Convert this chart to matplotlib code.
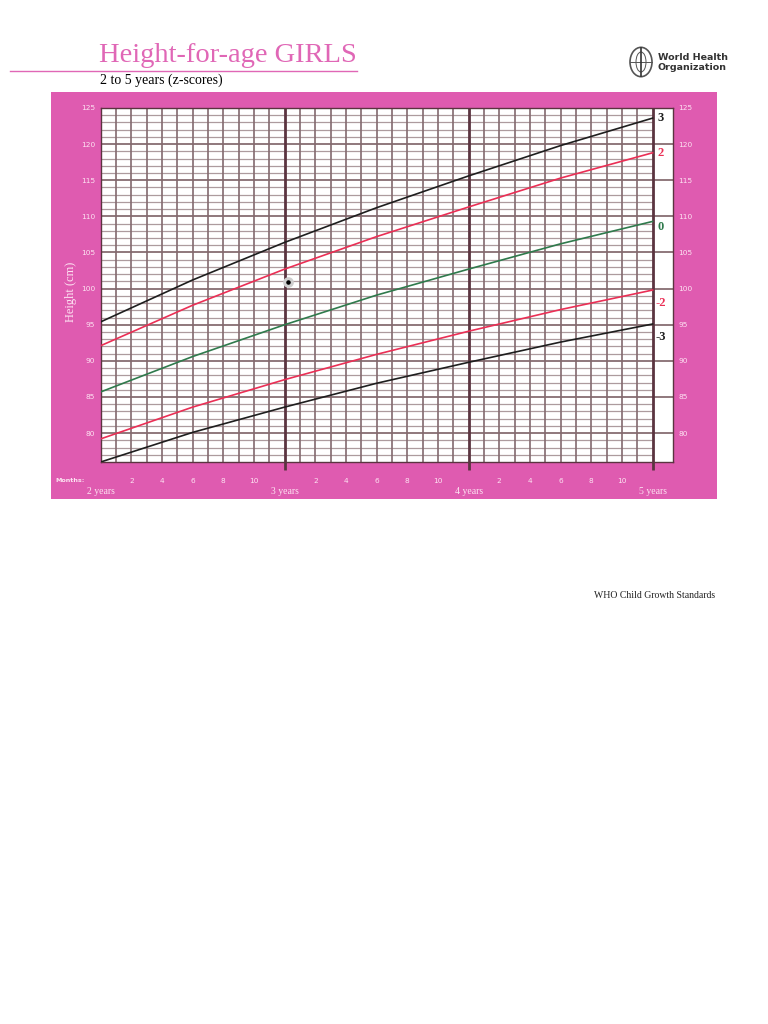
import numpy as np
import matplotlib.pyplot as plt
from matplotlib.patches import Rectangle, Circle, Ellipse
from matplotlib.lines import Line2D

# ---- data ----
age_months = [24, 30, 36, 42, 48, 54, 60]
sd3 = [95.4, 101.2, 106.4, 111.2, 115.6, 119.8, 123.6]
sd2 = [92.1, 97.7, 102.7, 107.2, 111.3, 115.3, 118.8]
sd0 = [85.7, 90.6, 95.0, 99.1, 102.7, 106.2, 109.3]
sd2neg = [79.2, 83.6, 87.4, 90.9, 94.1, 97.1, 99.8]
sd3neg = [76.0, 80.1, 83.6, 86.9, 89.8, 92.6, 95.1]
z_labels = ["3", "2", "0", "-2", "-3"]

child_age = [36.2]
child_height = [100.9]

height_ticks = [80, 85, 90, 95, 100, 105, 110, 115, 120, 125]
month_labels = [2, 4, 6, 8, 10]
year_labels = ["2 years", "3 years", "4 years", "5 years"]

# ---- styling ----
W, H = 768, 1024
PINK = "#df5bb0"
TITLE_PINK = "#e067b6"
BLACK = "#1e1e1e"
RED = "#ea2f55"
GREEN = "#2f7a4c"
LABEL = "#fde3f2"
colors = [BLACK, RED, GREEN, RED, BLACK]
label_drop = [0, 0, 5.5, 13, 13]  # px below curve end


def fx(x):
    return x / W


def fy(y):
    return 1 - y / H


fig = plt.figure(figsize=(W / 100, H / 100), dpi=100)
fig.patch.set_facecolor("white")

# header
fig.text(fx(99), fy(55), "Height-for-age GIRLS", family="Liberation Serif",
         fontsize=20.5, color=TITLE_PINK, va="center", ha="left")
fig.add_artist(Line2D([fx(10), fx(357)], [fy(71), fy(71)], color=TITLE_PINK, lw=1))
fig.text(fx(100), fy(80), "2 to 5 years (z-scores)", family="Liberation Serif",
         fontsize=10, color="black", va="center", ha="left")

# WHO logo (rough emblem + name)
fig.add_artist(Circle((fx(641), fy(62)), 11 / W, transform=fig.transFigure,
                      facecolor="white", edgecolor="#555555", lw=1.2))
fig.add_artist(Ellipse((fx(641), fy(62)), 10 / W, 20 / H, transform=fig.transFigure,
                       facecolor="none", edgecolor="#555555", lw=0.7))
fig.add_artist(Line2D([fx(630), fx(652)], [fy(62), fy(62)], color="#555555", lw=0.7))
fig.add_artist(Line2D([fx(641), fx(641)], [fy(48), fy(76)], color="#333333", lw=1.2))
fig.text(fx(658), fy(57), "World Health", family="DejaVu Sans", fontsize=6.8,
         fontweight="bold", color="#333333", va="center", ha="left")
fig.text(fx(658), fy(68), "Organization", family="DejaVu Sans", fontsize=6.8,
         fontweight="bold", color="#333333", va="center", ha="left")

# pink panel
fig.add_artist(Rectangle((fx(51), fy(499)), (717 - 51) / W, (499 - 92) / H,
                         transform=fig.transFigure, facecolor=PINK, edgecolor="none",
                         zorder=0))

# main axes
ax_left, ax_right, ax_top, ax_bottom = 100.7, 673, 108, 462
ax = fig.add_axes([fx(ax_left), fy(ax_bottom), (ax_right - ax_left) / W,
                   (ax_bottom - ax_top) / H])
x_max = 24 + (ax_right - ax_left) / 15.33
ax.set_xlim(24, x_max)
ax.set_ylim(76, 125)
ax.set_facecolor("white")

# grid
minor_h = [v for v in range(77, 125) if v % 5 != 0]
major_h = list(range(80, 125, 5))
ax.hlines(minor_h, 24, 60, color="#ad9b9e", lw=0.9, zorder=1)
ax.hlines(major_h, 24, x_max, color="#715359", lw=1.1, zorder=1)
ax.vlines([m for m in range(25, 60) if m % 12 != 0], 76, 125, color="#836a6e",
          lw=1.2, zorder=1)
ax.vlines([36, 48, 60], 76 - 8 / 7.224, 125, color="#5b3440", lw=2.0, zorder=2,
          clip_on=False)
for s in ax.spines.values():
    s.set_color("#5b3440")
    s.set_linewidth(1.0)

# z-score curves
curves = [sd3, sd2, sd0, sd2neg, sd3neg]
for vals, c, lab, drop in zip(curves, colors, z_labels, label_drop):
    ax.plot(age_months, vals, color=c, lw=1.2, zorder=3)
    ax.annotate(lab, (60.55, vals[-1]), xytext=(0, -drop * 0.72),
                textcoords="offset points", ha="center", va="center",
                family="Liberation Serif", fontweight="bold", fontsize=9,
                color=c, zorder=4)

# plotted child measurement
ax.plot(child_age, child_height, "o", ms=5.5, mfc="black", mec="#cfcfcf",
        mew=2.2, zorder=5)

# y ticks both sides
ax.set_xticks([])
ax.set_yticks(height_ticks)
ax.tick_params(axis="y", length=0, pad=4, labelsize=5.3, labelcolor=LABEL,
               labelleft=True, labelright=True)

# month / year labels
tr = ax.get_xaxis_transform()
for yr in range(3):
    for m in month_labels:
        ax.text(24 + 12 * yr + m, -19 / 354, str(m), transform=tr, ha="center",
                va="center", fontsize=5.3, color=LABEL)
for i, lab in enumerate(year_labels):
    ax.text(24 + 12 * i, -30 / 354, lab, transform=tr, ha="center", va="center",
            family="Liberation Serif", fontsize=7, color=LABEL)
fig.text(fx(55), fy(480), "Months:", fontsize=4.6, fontweight="bold",
         color=LABEL, ha="left", va="center")
fig.text(fx(71), fy(292), "Height (cm)", family="Liberation Serif", fontsize=9,
         color=LABEL, rotation=90, ha="center", va="center")

fig.text(fx(715), fy(595), "WHO Child Growth Standards", family="Liberation Serif",
         fontsize=7, color="#222222", ha="right", va="center")

fig.savefig("out.png", dpi=100)
